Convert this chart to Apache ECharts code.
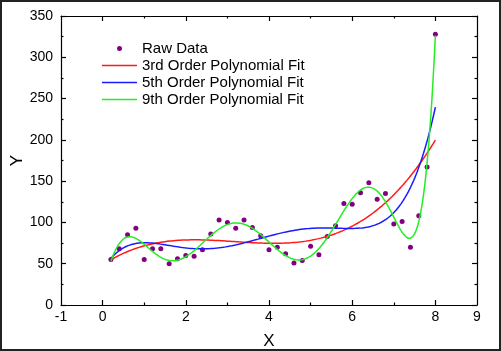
<!DOCTYPE html>
<html>
<head>
<meta charset="utf-8">
<title>Polynomial Fit</title>
<script src="https://cdn.jsdelivr.net/npm/echarts@6/dist/echarts.min.js"></script>
<style>
    html, body { margin: 0; padding: 0; background: #fff; }
    #wrap { position: relative; width: 501px; height: 351px; }
    #chart { width: 501px; height: 351px; }
    #frame {
        position: absolute; left: 0; top: 0; width: 501px; height: 351px;
        box-sizing: border-box; border: 2px solid #222; pointer-events: none;
    }
</style>
</head>
<body>
<div id="wrap">
    <div id="chart"></div>
    <div id="frame"></div>
</div>
<script>
// raw data
const xData = [0.2, 0.4, 0.6, 0.8, 1.0, 1.2, 1.4, 1.6, 1.8, 2.0,
               2.2, 2.4, 2.6, 2.8, 3.0, 3.2, 3.4, 3.6, 3.8, 4.0,
               4.2, 4.4, 4.6, 4.8, 5.0, 5.2, 5.4, 5.6, 5.8, 6.0,
               6.2, 6.4, 6.6, 6.8, 7.0, 7.2, 7.4, 7.6, 7.8, 8.0];
const yData = [55, 68, 85, 93, 55, 68, 68, 50, 56, 60,
               59, 67, 86, 103, 100, 93, 103, 94, 84, 67,
               70, 62, 51, 54, 71, 61, 83, 96, 123, 122,
               136, 148, 128, 135, 98, 101, 70, 108, 167, 328];

// fits
const fitOrders = [3, 5, 9];
const fitNames = ['3rd Order Polynomial Fit', '5th Order Polynomial Fit', '9th Order Polynomial Fit'];

// axis ticks / labels
const xTickLabels = [-1, 0, 2, 4, 6, 8, 9];
const xMajorTicks = [0, 2, 4, 6, 8];
const xMinorTicks = [1, 3, 5, 7];

const FONT = 'Liberation Sans, Arial, sans-serif';

// least squares polynomial fit, x scaled to [-1,1] to keep it stable
function polyFit(xs, ys, order) {
    const c = (xs[0] + xs[xs.length - 1]) / 2;
    const s = (xs[xs.length - 1] - xs[0]) / 2;
    const n = order + 1;
    const A = [], b = [];
    for (let i = 0; i < n; i++) { A.push(new Array(n).fill(0)); b.push(0); }
    xs.forEach((x, k) => {
        const t = (x - c) / s;
        const p = [];
        for (let i = 0; i < n; i++) p.push(Math.pow(t, i));
        for (let i = 0; i < n; i++) {
            b[i] += p[i] * ys[k];
            for (let j = 0; j < n; j++) A[i][j] += p[i] * p[j];
        }
    });
    for (let col = 0; col < n; col++) {
        let piv = col;
        for (let r = col + 1; r < n; r++) {
            if (Math.abs(A[r][col]) > Math.abs(A[piv][col])) piv = r;
        }
        [A[col], A[piv]] = [A[piv], A[col]];
        [b[col], b[piv]] = [b[piv], b[col]];
        for (let r = col + 1; r < n; r++) {
            const f = A[r][col] / A[col][col];
            for (let j = col; j < n; j++) A[r][j] -= f * A[col][j];
            b[r] -= f * b[col];
        }
    }
    const coef = new Array(n).fill(0);
    for (let i = n - 1; i >= 0; i--) {
        let sum = b[i];
        for (let j = i + 1; j < n; j++) sum -= A[i][j] * coef[j];
        coef[i] = sum / A[i][i];
    }
    return x => {
        const t = (x - c) / s;
        let v = 0;
        for (let i = n - 1; i >= 0; i--) v = v * t + coef[i];
        return v;
    };
}

function fitCurve(order) {
    const f = polyFit(xData, yData, order);
    const x0 = xData[0], x1 = xData[xData.length - 1];
    const steps = 300;
    const out = [];
    for (let i = 0; i <= steps; i++) {
        const x = x0 + (x1 - x0) * i / steps;
        out.push([x, f(x)]);
    }
    return out;
}

const axisLineStyle = { color: '#000', width: 1.2 };

function xAxisPart(position, ticks, len, withLine, withLabel) {
    return {
        type: 'value', min: -1, max: 9, position: position,
        axisLine: { show: withLine, onZero: false, lineStyle: axisLineStyle },
        axisTick: { show: true, inside: true, length: len, customValues: ticks, lineStyle: { color: '#000', width: 1.2 } },
        axisLabel: withLabel
            ? { show: true, customValues: xTickLabels, margin: 5, fontSize: 14, color: '#000', fontFamily: FONT }
            : { show: false },
        splitLine: { show: false }
    };
}

function yAxisPart(position, withLabel) {
    return {
        type: 'value', min: 0, max: 350, interval: 50, position: position,
        axisLine: { show: true, onZero: false, lineStyle: axisLineStyle },
        axisTick: { show: true, inside: true, length: 5, lineStyle: { color: '#000', width: 1.2 } },
        minorTick: { show: true, splitNumber: 2, length: 2.5, lineStyle: { color: '#000', width: 1.2 } },
        axisLabel: withLabel
            ? { show: true, margin: 8, fontSize: 14, color: '#000', fontFamily: FONT }
            : { show: false },
        splitLine: { show: false }
    };
}

const lineColors = ['#ff1a1a', '#1a1aff', '#22ee22'];
// flat bar used as legend icon for the fit lines
const lineIcon = 'path://M0 0H70V3H0Z';

const chart = echarts.init(document.getElementById('chart'));

const xMain = xAxisPart('bottom', xMajorTicks, 5, true, true);
xMain.name = 'X';
xMain.nameLocation = 'middle';
xMain.nameGap = 28;
xMain.nameMoveOverlap = false;
xMain.nameTextStyle = { fontSize: 17, color: '#000', fontFamily: FONT };

const yMain = yAxisPart('left', true);
yMain.name = 'Y';
yMain.nameLocation = 'middle';
yMain.nameGap = 35;
yMain.nameMoveOverlap = false;
yMain.nameTextStyle = { fontSize: 17, color: '#000', fontFamily: FONT };

chart.setOption({
    animation: false,
    backgroundColor: '#fff',
    grid: { left: 61, right: 24, top: 16, bottom: 46, containLabel: false, outerBoundsMode: 'none' },
    legend: {
        orient: 'vertical',
        left: 102,
        top: 41,
        padding: 0,
        itemWidth: 35,
        itemHeight: 5,
        itemGap: 2,
        textStyle: { fontSize: 15, color: '#000', fontFamily: FONT },
        data: [{ name: 'Raw Data', icon: 'circle' }].concat(fitNames.map(n => ({ name: n, icon: lineIcon })))
    },
    xAxis: [
        xMain,
        xAxisPart('bottom', xMinorTicks, 2.5, false, false),
        xAxisPart('top', xMajorTicks, 5, true, false),
        xAxisPart('top', xMinorTicks, 2.5, false, false)
    ],
    yAxis: [yMain, yAxisPart('right', false)],
    series: [{
        name: 'Raw Data',
        type: 'scatter',
        symbolSize: 5,
        itemStyle: { color: '#800080', opacity: 1 },
        data: xData.map((x, i) => [x, yData[i]])
    }].concat(fitOrders.map((order, i) => ({
        name: fitNames[i],
        type: 'line',
        symbol: 'none',
        showSymbol: false,
        lineStyle: { color: lineColors[i], width: 1.5 },
        itemStyle: { color: lineColors[i] },
        data: fitCurve(order)
    })))
});
</script>
</body>
</html>
